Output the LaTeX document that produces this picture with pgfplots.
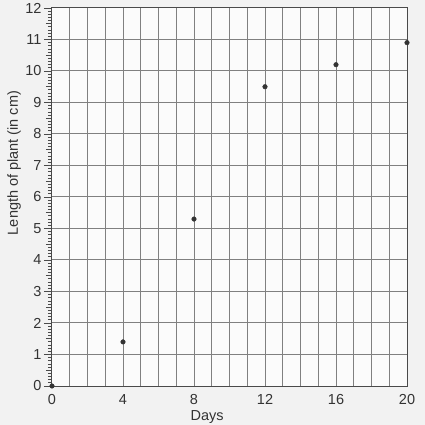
\documentclass[border=0pt]{standalone}
\usepackage{pgfplots}
\pgfplotsset{compat=1.18}
\usepackage{fontspec}
\setmainfont{Liberation Sans}
\definecolor{bgc}{HTML}{F2F2F2}
\definecolor{gridc}{HTML}{808080}
\definecolor{axc}{HTML}{4A4A4A}
\definecolor{ptc}{HTML}{333333}
\begin{document}
\begin{tikzpicture}
\fill[bgc] (-52pt,-39pt) rectangle (373pt,386pt);
\useasboundingbox (-52pt,-39pt) rectangle (373pt,386pt);
\begin{axis}[
  at={(0,0)}, anchor=south west,
  scale only axis, width=355pt, height=378pt,
  xmin=0, xmax=20, ymin=0, ymax=12,
  /pgf/number format/assume math mode=true,
  axis background/.style={fill=white!70!bgc},
  axis line style={axc, line width=1pt},
  xtick={0,...,20},
  xticklabels={0,,,,4,,,,8,,,,12,,,,16,,,,20},
  ytick={0,...,12},
  ytick pos=left,
  minor y tick num=9,
  extra y ticks={0.5,1.5,2.5,3.5,4.5,5.5,6.5,7.5,8.5,9.5,10.5,11.5},
  extra y tick labels={},
  extra y tick style={grid=none, major tick length=6pt, tick style={axc, line width=0.8pt}},
  ymajorgrids, xmajorgrids,
  grid style={gridc, line width=1pt},
  tick align=outside,
  x tick style={draw=none},
  y tick style={axc, line width=0.8pt},
  major tick length=8pt,
  minor tick length=4pt,
  minor tick style={axc, line width=0.7pt},
  tick label style={font=\fontsize{14.5}{16}\selectfont, text=ptc},
  xticklabel style={yshift=3pt},
  yticklabel style={xshift=1pt},
  xlabel={Days},
  ylabel={Length of plant (in cm)},
  label style={font=\fontsize{14.5}{16}\selectfont, text=ptc},
  xlabel style={at={(axis description cs:0.437,-0.083)}, anchor=center},
  ylabel style={at={(axis description cs:-0.107,0.59)}, anchor=center, rotate=0},
  clip=false,
]
\addplot[only marks, mark=*, mark size=2.3pt, ptc] coordinates {
  (0,0) (4,1.4) (8,5.3) (12,9.5) (16,10.2) (20,10.9)
};
\end{axis}
\end{tikzpicture}
\end{document}
